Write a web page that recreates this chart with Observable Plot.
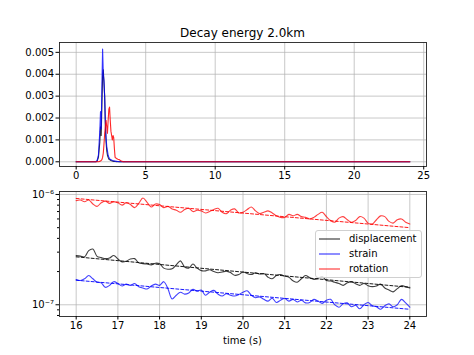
<!DOCTYPE html>
<html><head><meta charset="utf-8">
<script src="https://cdn.jsdelivr.net/npm/d3@7"></script>
<script src="https://cdn.jsdelivr.net/npm/@observablehq/plot@0.6"></script>
<style>
body{margin:0;background:#fff;font-family:"DejaVu Sans",sans-serif;}
#wrap{position:relative;width:474px;height:355px;overflow:hidden;}
#wrap > svg{position:absolute;left:0;}
.title{position:absolute;left:59px;width:367px;text-align:center;font-size:12px;line-height:14px;top:26px;color:#000;}
.xlabel{position:absolute;left:59px;width:367px;text-align:center;font-size:10px;line-height:12px;top:335px;color:#000;}
.legend{position:absolute;left:315px;top:230px;width:105px;height:46px;border:1px solid #d0d0d0;border-radius:3px;background:rgba(255,255,255,0.8);font-size:10px;color:#000;}
.row{height:15px;display:flex;align-items:center;}
.row svg{margin-left:3px;margin-right:9px;}
</style></head><body>
<div id="wrap"></div>
<script>
// ---- top panel: decay energy ----
const energyTime = [0, 1.4, 1.5, 1.6, 1.7, 1.75, 1.8, 1.85, 1.9, 1.95, 2.0, 2.05, 2.1, 2.15, 2.2, 2.25, 2.3, 2.35, 2.4, 2.45, 2.5, 2.55, 2.6, 2.65, 2.7, 2.75, 2.8, 2.9, 3.0, 3.1, 3.2, 3.4, 24];
const energyDisplacement = [0,0,0.00002,0.0002,0.0009,0.0016,0.0012,0.0026,0.0039,0.0042,0.0036,0.0030,0.0016,0.0009,0.0005,0.0003,0.0002,0.00012,0.0001,0.00008,0.00006,0.00005,0.00004,0.00003,0.00002,0.00002,0.00001,0,0,0,0,0,0];
const energyStrain = [0,0,0.00005,0.0003,0.0014,0.0023,0.0015,0.0034,0.00515,0.0040,0.0037,0.0029,0.0018,0.0011,0.0007,0.0005,0.0003,0.0002,0.00015,0.0001,0.0001,0.00008,0.00006,0.00005,0.00004,0.00003,0.00003,0.00002,0.00001,0,0,0,0];
const energyRotation = [0,0,0,0,0.00002,0.00004,0.00006,0.0001,0.0002,0.0004,0.0008,0.0013,0.0016,0.0019,0.0016,0.0013,0.0019,0.0024,0.0025,0.0019,0.0014,0.0012,0.0010,0.0012,0.0011,0.0006,0.0002,0.00015,0.00012,0.0001,0.00005,0,0];
const topXTicks = [0, 5, 10, 15, 20, 25];
const topYTicks = [0, 0.001, 0.002, 0.003, 0.004, 0.005];

// ---- bottom panel: amplitude decay 16-24 s ----
const decayTime = [16.0,16.1,16.2,16.3,16.4,16.5,16.6,16.7,16.8,16.9,17.0,17.1,17.2,17.3,17.4,17.5,17.6,17.7,17.8,17.9,18.0,18.1,18.2,18.3,18.4,18.5,18.6,18.7,18.8,18.9,19.0,19.1,19.2,19.3,19.4,19.5,19.6,19.7,19.8,19.9,20.0,20.1,20.2,20.3,20.4,20.5,20.6,20.7,20.8,20.9,21.0,21.1,21.2,21.3,21.4,21.5,21.6,21.7,21.8,21.9,22.0,22.1,22.2,22.3,22.4,22.5,22.6,22.7,22.8,22.9,23.0,23.1,23.2,23.3,23.4,23.5,23.6,23.7,23.8,23.9,24.0];
const displacement = [2.79e-7,2.76e-7,2.72e-7,3.1e-7,3.2e-7,2.75e-7,2.68e-7,2.62e-7,2.65e-7,2.80e-7,2.60e-7,2.45e-7,2.48e-7,2.60e-7,2.62e-7,2.40e-7,2.36e-7,2.34e-7,2.30e-7,2.38e-7,2.35e-7,2.15e-7,2.10e-7,2.12e-7,2.30e-7,2.50e-7,2.20e-7,2.15e-7,2.34e-7,2.15e-7,2.04e-7,2.03e-7,2.08e-7,2.00e-7,1.95e-7,1.98e-7,2.02e-7,1.96e-7,1.85e-7,1.88e-7,1.98e-7,1.92e-7,1.88e-7,1.95e-7,1.90e-7,1.92e-7,1.78e-7,1.72e-7,1.84e-7,1.88e-7,1.82e-7,1.78e-7,1.65e-7,1.60e-7,1.72e-7,1.84e-7,1.76e-7,1.70e-7,1.74e-7,1.80e-7,1.66e-7,1.64e-7,1.60e-7,1.56e-7,1.50e-7,1.58e-7,1.62e-7,1.55e-7,1.50e-7,1.56e-7,1.49e-7,1.46e-7,1.48e-7,1.54e-7,1.42e-7,1.36e-7,1.31e-7,1.40e-7,1.49e-7,1.46e-7,1.42e-7];
const strain = [1.69e-7,1.66e-7,1.72e-7,1.84e-7,1.72e-7,1.60e-7,1.58e-7,1.44e-7,1.50e-7,1.62e-7,1.56e-7,1.48e-7,1.54e-7,1.50e-7,1.56e-7,1.46e-7,1.42e-7,1.39e-7,1.48e-7,1.54e-7,1.50e-7,1.62e-7,1.40e-7,1.13e-7,1.22e-7,1.30e-7,1.25e-7,1.28e-7,1.38e-7,1.33e-7,1.36e-7,1.22e-7,1.30e-7,1.35e-7,1.25e-7,1.20e-7,1.26e-7,1.22e-7,1.20e-7,1.24e-7,1.30e-7,1.34e-7,1.22e-7,1.16e-7,1.18e-7,1.12e-7,1.08e-7,1.15e-7,1.05e-7,1.10e-7,1.14e-7,1.08e-7,1.12e-7,1.06e-7,1.10e-7,1.04e-7,1.05e-7,1.12e-7,1.08e-7,1.03e-7,1.10e-7,1.12e-7,1.00e-7,0.95e-7,1.02e-7,1.04e-7,0.96e-7,0.99e-7,0.92e-7,1.00e-7,1.05e-7,0.98e-7,0.96e-7,0.91e-7,0.98e-7,1.02e-7,0.96e-7,1.00e-7,1.12e-7,1.04e-7,0.95e-7];
const rotation = [8.8e-7,8.9e-7,8.6e-7,8.9e-7,8.2e-7,7.8e-7,8.4e-7,8.7e-7,8.3e-7,8.6e-7,8.4e-7,8.0e-7,8.4e-7,8.1e-7,7.6e-7,8.3e-7,9.3e-7,8.5e-7,7.7e-7,8.2e-7,8.1e-7,7.6e-7,7.8e-7,7.4e-7,7.2e-7,6.9e-7,7.3e-7,7.5e-7,7.0e-7,7.2e-7,7.1e-7,6.8e-7,7.0e-7,7.3e-7,7.5e-7,6.9e-7,6.7e-7,7.2e-7,7.4e-7,6.8e-7,6.9e-7,7.3e-7,7.7e-7,7.1e-7,6.7e-7,6.9e-7,7.1e-7,6.8e-7,6.4e-7,6.2e-7,6.2e-7,6.6e-7,6.4e-7,6.6e-7,6.3e-7,6.2e-7,6.0e-7,6.2e-7,6.6e-7,6.9e-7,6.3e-7,5.8e-7,5.6e-7,6.1e-7,6.3e-7,5.9e-7,5.6e-7,5.8e-7,6.3e-7,6.1e-7,5.5e-7,5.4e-7,5.9e-7,6.4e-7,6.3e-7,5.7e-7,5.5e-7,5.9e-7,6.0e-7,5.6e-7,5.4e-7];
// exponential fits (straight on log axis): start/end values
const fitTime = [16, 24];
const fitDisplacement = [2.72e-7, 1.44e-7];
const fitStrain = [1.67e-7, 0.91e-7];
const fitRotation = [9.2e-7, 5.0e-7];
const seriesNames = ["displacement", "strain", "rotation"];
const seriesColors = ["#000000", "#0000ff", "#ff0000"];
const bottomXTicks = [16, 17, 18, 19, 20, 21, 22, 23, 24];
const bottomYMajor = [1e-7, 1e-6];
const bottomYMajorLabels = ["10\u207B\u2077", "10\u207B\u2076"];
const bottomYMinor = [8e-8, 9e-8, 2e-7, 3e-7, 4e-7, 5e-7, 6e-7, 7e-7, 8e-7, 9e-7];
const titleText = "Decay energy 2.0km";
const xLabelText = "time (s)";

const rows = (xs, ys) => xs.map((x, i) => ({x, y: ys[i]}));
const energySeries = [energyDisplacement, energyStrain, energyRotation];
const decaySeries = [displacement, strain, rotation];
const fitSeries = [fitDisplacement, fitStrain, fitRotation];
const majorLabel = d => bottomYMajorLabels[bottomYMajor.findIndex(v => Math.abs(v - d) / v < 1e-6)] ?? "";

const style = {fontFamily: "DejaVu Sans", fontSize: "10px", color: "#000", background: "transparent", overflow: "visible"};
const gridStyle = {stroke: "#b0b0b0", strokeOpacity: 0.7, strokeWidth: 1};

const topPlot = Plot.plot({
  width: 474, height: 185,
  marginLeft: 59, marginRight: 48, marginTop: 42, marginBottom: 19,
  style,
  x: {domain: [-1.2, 25.2]},
  y: {domain: [-0.000215, 0.00545]},
  marks: [
    Plot.gridX(topXTicks, gridStyle),
    Plot.gridY(topYTicks, gridStyle),
    ...energySeries.map((s, i) => Plot.line(rows(energyTime, s), {x: "x", y: "y", stroke: seriesColors[i], strokeWidth: 1.1, strokeOpacity: i === 2 ? 0.85 : 0.8})),
    Plot.frame({stroke: "#222", strokeWidth: 0.9}),
    Plot.axisX(topXTicks, {tickSize: 3.5, tickPadding: 2, label: null, tickFormat: d => String(d)}),
    Plot.axisY(topYTicks, {tickSize: 3.5, tickPadding: 2, label: null, tickFormat: d3.format(".3f")})
  ]
});
topPlot.style.top = "0px";

const bottomPlot = Plot.plot({
  width: 474, height: 170,
  marginLeft: 59, marginRight: 48, marginTop: 6, marginBottom: 39,
  style,
  x: {domain: [15.6, 24.4]},
  y: {type: "log", domain: [7.83e-8, 1.064e-6]},
  marks: [
    Plot.gridX(bottomXTicks, gridStyle),
    Plot.gridY(bottomYMajor, gridStyle),
    ...decaySeries.map((s, i) => Plot.line(rows(decayTime, s), {x: "x", y: "y", stroke: seriesColors[i], strokeWidth: 1.1, strokeOpacity: 0.75, curve: "catmull-rom"})),
    ...fitSeries.map((s, i) => Plot.line(rows(fitTime, s), {x: "x", y: "y", stroke: seriesColors[i], strokeWidth: 0.9, strokeDasharray: "3,2"})),
    Plot.frame({stroke: "#222", strokeWidth: 0.9}),
    Plot.axisX(bottomXTicks, {tickSize: 3.5, tickPadding: 2, label: null, tickFormat: d => String(d)}),
    Plot.axisY(bottomYMinor, {tickSize: 2, label: null, tickFormat: () => ""}),
    Plot.axisY(bottomYMajor, {tickSize: 3.5, tickPadding: 2, label: null, tickFormat: majorLabel})
  ]
});
bottomPlot.style.top = "185px";

const wrap = document.getElementById("wrap");
wrap.appendChild(topPlot);
wrap.appendChild(bottomPlot);

const title = document.createElement("div");
title.className = "title"; title.textContent = titleText;
wrap.appendChild(title);
const xl = document.createElement("div");
xl.className = "xlabel"; xl.textContent = xLabelText;
wrap.appendChild(xl);

const legend = document.createElement("div");
legend.className = "legend";
seriesNames.forEach((n, i) => {
  const r = document.createElement("div"); r.className = "row";
  r.innerHTML = `<svg width="21" height="4"><line x1="0" y1="2" x2="21" y2="2" stroke="${seriesColors[i]}" stroke-opacity="0.6" stroke-width="1.5"/></svg>`;
  const t = document.createElement("span"); t.textContent = n;
  r.appendChild(t); legend.appendChild(r);
});
wrap.appendChild(legend);
</script>
</body></html>
